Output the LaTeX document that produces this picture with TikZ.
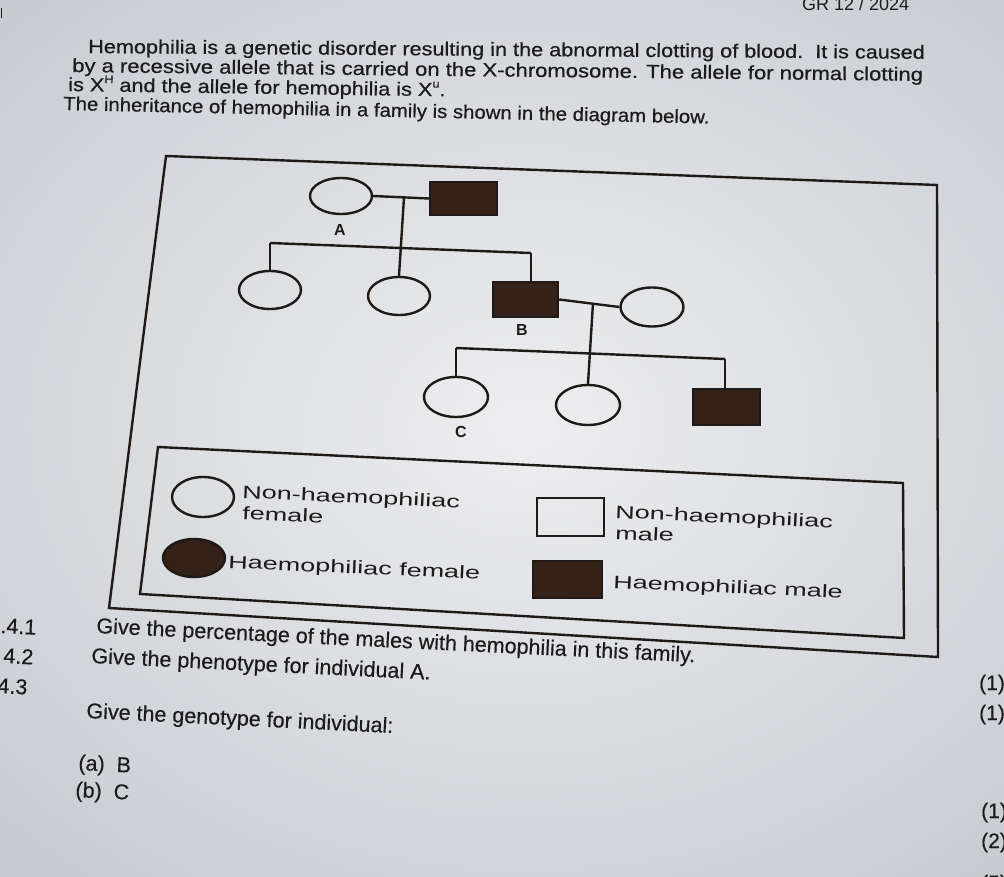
\documentclass[tikz,border=0pt]{standalone}
\usepackage{fontspec}
\setmainfont{Liberation Sans}
\newfontfamily\legendfont[FakeStretch=1.5]{Liberation Sans}
\newfontfamily\parafont[FakeStretch=1.14,FakeBold=0.6]{Liberation Sans}
\newfontfamily\parafontb[FakeStretch=1.16,FakeBold=0.6]{Liberation Sans}
\newfontfamily\parafontc[FakeStretch=1.07,FakeBold=0.6]{Liberation Sans}
\newfontfamily\quesfont[FakeBold=0.4]{Liberation Sans}
\usetikzlibrary{shapes.geometric}
\definecolor{ink}{RGB}{30,26,24}
\definecolor{fillc}{RGB}{52,33,24}
\definecolor{txt}{RGB}{28,27,27}
\definecolor{bgin}{RGB}{238,238,240}
\definecolor{bgout}{RGB}{200,204,209}
\begin{document}
\begin{tikzpicture}[x=1pt,y=-1pt,
  fem/.style={ellipse, draw=ink, line width=2.4pt, inner sep=0pt, minimum width=62pt, minimum height=38pt},
  femaff/.style={fem, fill=fillc},
  mal/.style={rectangle, draw=ink, line width=2.4pt, inner sep=0pt, minimum width=66pt, minimum height=35pt},
  malaff/.style={mal, fill=fillc},
  link/.style={draw=ink, line width=2.4pt},
  box/.style={draw=ink, line width=2.4pt, line join=miter},
  para/.style={anchor=base west, inner sep=0pt, text=txt, font=\parafont\fontsize{19}{22}\selectfont},
  ques/.style={anchor=base west, inner sep=0pt, text=txt, font=\quesfont\fontsize{21.5}{24}\selectfont, rotate=-2.8},
  markstyle/.style={anchor=base west, inner sep=0pt, text=txt, font=\quesfont\fontsize{21}{24}\selectfont},
  leg/.style={anchor=base west, inner sep=0pt, text=txt, font=\legendfont\fontsize{18}{20}\selectfont, rotate=-2.6},
  lbl/.style={inner sep=0pt, text=txt, font=\bfseries\fontsize{16}{16}\selectfont},
]
\useasboundingbox (0,0) rectangle (1004,877);
\shade[inner color=bgin, outer color=bgout] (-200,-150) rectangle (1250,1000);

% header
\node[anchor=base west, inner sep=0pt, text=txt, font=\fontsize{18}{18}\selectfont] (hdr) at (802,11) {GR 12 / 2024};
\draw[ink, line width=1.6pt] (1.5,8) -- (1.5,18);

% paragraph
\node[para, rotate=-0.4] (p1) at (88,53) {Hemophilia is a genetic disorder resulting in the abnormal clotting of blood.\ \ It is caused};
\node[para, rotate=-0.6, font=\parafontb\fontsize{19}{22}\selectfont] (p2) at (72,72) {by a recessive allele that is carried on the X-chromosome. The allele for normal clotting};
\node[para, rotate=-0.8] (p3) at (68,91) {is X\raisebox{0.85ex}{\fontsize{11}{11}\selectfont H} and the allele for hemophilia is X\raisebox{0.85ex}{\fontsize{11}{11}\selectfont u}.};
\node[para, rotate=-1.2, font=\parafontc\fontsize{19}{22}\selectfont] (p4) at (63,110) {The inheritance of hemophilia in a family is shown in the diagram below.};

% boxes
\draw[box] (166,156) -- (937,185) -- (938,657) -- (109,608) -- cycle;
\draw[box] (158,447) -- (903,483) -- (904,638) -- (140,594) -- cycle;

% pedigree generation I
\node[fem, minimum height=36pt] (A) at (341,196) {};
\node[malaff, minimum width=67pt, minimum height=33pt] (m1) at (463.5,198.5) {};
\node[lbl] (labA) at (340,230) {A};
\draw[link] (A.east) -- (m1.west);
\coordinate (mar1) at (404,197.5);
% generation II
\node[fem] (c1) at (270,290) {};
\node[fem] (c2) at (399,296) {};
\node[malaff, minimum width=65pt] (B) at (525.5,299.5) {};
\node[lbl] (labB) at (522,330) {B};
\node[fem, minimum width=63pt, minimum height=39pt] (w2) at (652,307) {};
\coordinate (s1L) at (270,243);
\coordinate (s1R) at (531,253);
\draw[link] (mar1) -- (c2.north);
\draw[link] (s1L) -- (s1R);
\draw[link] (s1L) -- (c1.north);
\draw[link] (s1R) -- (s1R |- B.north);
\draw[link] (B.east) -- (w2.west);
\coordinate (mar2) at (593,303);
% generation III
\node[fem, minimum width=64pt, minimum height=40pt] (C) at (456,397) {};
\node[lbl] (labC) at (461,432) {C};
\node[fem, minimum width=64pt, minimum height=40pt] (g2) at (588,405) {};
\node[malaff, minimum width=67pt, minimum height=36pt] (s3) at (726.5,407) {};
\coordinate (s2L) at (456,348);
\coordinate (s2R) at (725,359);
\draw[link] (mar2) -- (g2.north);
\draw[link] (s2L) -- (s2R);
\draw[link] (s2L) -- (C.north);
\draw[link] (s2R) -- (s2R |- s3.north);

% legend
\node[fem, minimum width=62pt, minimum height=40pt] (lf) at (203,497) {};
\node[femaff, minimum width=62pt, minimum height=38pt] (lfa) at (194,558) {};
\node[mal, minimum width=67pt, minimum height=38pt] (lm) at (570.5,517) {};
\node[malaff, minimum width=69pt, minimum height=37pt] (lma) at (567.5,579.5) {};
\node[leg] (t1) at (242,498) {Non-haemophiliac};
\node[leg] (t1b) at (242,519) {female};
\node[leg] (t2) at (228,568) {Haemophiliac female};
\node[leg] (t3) at (615,518) {Non-haemophiliac};
\node[leg] (t3b) at (615,539) {male};
\node[leg] (t4) at (613,588) {Haemophiliac male};

% questions
\node[ques] (n41) at (0,633) {.4.1};
\node[ques] (q41) at (96,633) {Give the percentage of the males with hemophilia in this family.};
\node[ques] (n42) at (3,663) {4.2};
\node[ques] (q42) at (91,663) {Give the phenotype for individual A.};
\node[ques] (n43) at (-3,693) {4.3};
\node[ques] (q43) at (86,718) {Give the genotype for individual:};
\node[ques] (qa) at (78,770) {(a)\ \ B};
\node[ques] (qb) at (75,797) {(b)\ \ C};

% marks
\node[markstyle] (mk1) at (979,690) {(1)};
\node[markstyle] (mk2) at (979,720) {(1)};
\node[markstyle] (mk3) at (981,818) {(1)};
\node[markstyle] (mk4) at (981,848) {(2)};
\node[markstyle] (mk5) at (981,890) {(5)};
\end{tikzpicture}
\end{document}
